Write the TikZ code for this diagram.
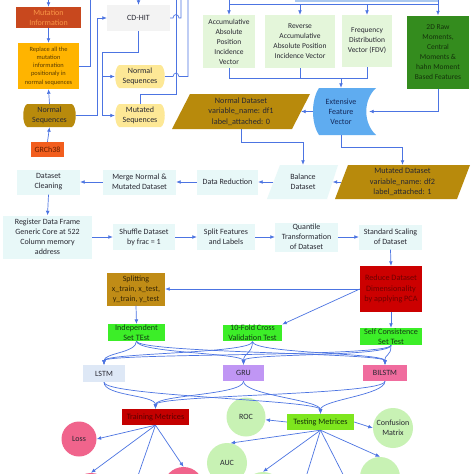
\documentclass[tikz,border=0pt]{standalone}
\usepackage{fontspec}
\setmainfont{Carlito}
\usetikzlibrary{arrows.meta}
\definecolor{lc}{RGB}{76,116,226}
\definecolor{tx}{RGB}{40,40,50}
\definecolor{cMut}{RGB}{200,72,30}
\definecolor{cMutT}{RGB}{250,150,70}
\definecolor{cRep}{RGB}{255,180,0}
\definecolor{cGold}{RGB}{184,138,12}
\definecolor{cGRC}{RGB}{242,94,30}
\definecolor{cGrey}{RGB}{243,243,243}
\definecolor{cSeq}{RGB}{253,232,150}
\definecolor{cFeat}{RGB}{228,246,218}
\definecolor{cDG}{RGB}{52,140,30}
\definecolor{cEFV}{RGB}{95,172,240}
\definecolor{cCy}{RGB}{232,248,248}
\definecolor{cRed}{RGB}{204,0,0}
\definecolor{cRedT}{RGB}{110,0,0}
\definecolor{cSplit}{RGB}{192,140,22}
\definecolor{cLime}{RGB}{60,238,40}
\definecolor{cLSTM}{RGB}{222,232,246}
\definecolor{cGRU}{RGB}{192,150,244}
\definecolor{cBIL}{RGB}{240,108,158}
\definecolor{cTrn}{RGB}{196,0,0}
\definecolor{cTst}{RGB}{126,230,30}
\definecolor{cPink}{RGB}{240,100,140}
\definecolor{cLG}{RGB}{200,242,180}
\definecolor{cBar}{RGB}{170,200,240}
\newcommand\seqshape[5]{\fill[#5] (#1+4,#2) -- (#3-4,#2) .. controls (#3+1,#2+3) and (#3+1,#4-3) .. (#3-4,#4) -- (#1+4,#4) .. controls (#1-1,#4-3) and (#1-1,#2+3) .. (#1+4,#2) -- cycle;}
\tikzset{
  bx/.style={rectangle, inner sep=0.5pt, align=center, text=tx, font=\fontsize{8}{10}\selectfont},
  sm/.style={font=\fontsize{6.4}{8.2}\selectfont},
  fb/.style={font=\fontsize{7.5}{10}\selectfont},
  dsf/.style={font=\fontsize{8.2}{10.5}\selectfont},
  tf/.style={font=\fontsize{8.2}{10}\selectfont},
  ln/.style={draw=lc, line width=0.7pt},
  ar/.style={ln, -{Latex[length=4.5pt,width=3.8pt]}},
  cb/.style={circle, inner sep=0pt, align=center, text=tx, font=\fontsize{8}{9.5}\selectfont}
}
\begin{document}
\begin{tikzpicture}[x=1pt,y=-1pt]
\useasboundingbox (0,0) rectangle (474,474);
\clip (0,0) rectangle (474,474);
\fill[white] (0,0) rectangle (474,474);
% custom shapes
\fill[cBar] (295,-5) rectangle (438,1.5);
\seqshape{23}{104}{76}{127}{cGold}
\seqshape{115}{65}{165}{88}{cSeq}
\seqshape{115}{104}{165}{127}{cSeq}
\fill[cEFV] (319,88) -- (376,88) .. controls (363,100) and (363,123) .. (376,135) -- (319,135) .. controls (311,123) and (311,100) .. (319,88) -- cycle;
\fill[cGold] (190,94) -- (310,94) -- (292,129) -- (172,129) -- cycle;
\fill[cGold] (348,165) -- (470,165) -- (457,199) -- (335,199) -- cycle;
\fill[cCy] (280,165) -- (338,165) -- (327,199) -- (267,199) -- cycle;
% nodes
\node[bx, fill=cMut, text=cMutT, minimum width=65pt, minimum height=21pt] (mut) at (48.5,17.5) {Mutation\\Information};
\node[bx, sm, fill=cRep, text={rgb,255:red,90;green,60;blue,0}, minimum width=61pt, minimum height=46pt] (rep) at (48.5,66) {Replace all the\\mutation\\information\\positionaly in\\normal sequences};
\node[bx, minimum width=53pt, minimum height=23pt] (ns1) at (49.5,115.5) {Normal\\Sequences};
\node[bx, fill=cGRC, text={rgb,255:red,100;green,30;blue,0}, minimum width=33pt, minimum height=15pt] (grc) at (47.5,149.5) {GRCh38};
\node[bx, fill=cGrey, minimum width=63pt, minimum height=26pt] (cdh) at (138.5,18) {CD-HIT};
\node[bx, minimum width=50pt, minimum height=23pt] (ns2) at (140,76.5) {Normal\\Sequences};
\node[bx, minimum width=50pt, minimum height=23pt] (ms2) at (140,115.5) {Mutated\\Sequences};
\node[bx, fb, fill=cFeat, minimum width=52pt, minimum height=53pt] (f1) at (229,41.5) {Accumulative\\Absolute\\Position\\Incidence\\Vector};
\node[bx, fb, fill=cFeat, minimum width=70pt, minimum height=53pt] (f2) at (300,41.5) {Reverse\\Accumulative\\Absolute Position\\Incidence Vector};
\node[bx, fb, fill=cFeat, minimum width=50pt, minimum height=52pt] (f3) at (367,41) {Frequency\\Distribution\\Vector (FDV)};
\node[bx, fb, fill=cDG, text={rgb,255:red,20;green,50;blue,10}, minimum width=62pt, minimum height=73pt] (f4) at (438,52) {2D Raw\\Moments,\\Central\\Moments \&\\hahn Moment\\Based Features};
\node[bx, text={rgb,255:red,20;green,40;blue,90}, minimum width=56pt, minimum height=47pt] (efv) at (341,111.5) {Extensive\\Feature\\Vector};
\node[bx, dsf, minimum width=120pt, minimum height=35pt] (nd) at (241,111.5) {Normal Dataset\\variable\_name: df1\\label\_attached: 0};
\node[bx, dsf, minimum width=122pt, minimum height=34pt] (md) at (402.5,182) {Mutated Dataset\\variable\_name: df2\\label\_attached: 1};
\node[bx, minimum width=59pt, minimum height=34pt] (bal) at (303,182) {Balance\\Dataset};
\node[bx, fill=cCy, minimum width=61pt, minimum height=25pt] (dr) at (227.5,182) {Data Reduction};
\node[bx, fill=cCy, minimum width=73pt, minimum height=25pt] (mg) at (139.5,182) {Merge Normal \&\\Mutated Dataset};
\node[bx, fill=cCy, minimum width=63pt, minimum height=25pt] (dc) at (48.5,182) {Dataset\\Cleaning};
\node[bx, fill=cCy, minimum width=89pt, minimum height=43pt] (reg) at (47.5,237) {Register Data Frame\\Generic Core at 522\\Column memory\\address};
\node[bx, fill=cCy, minimum width=62pt, minimum height=26pt] (shu) at (144,237) {Shuffle Dataset\\by frac = 1};
\node[bx, fill=cCy, minimum width=58pt, minimum height=26pt] (spl) at (226,237) {Split Features\\and Labels};
\node[bx, fill=cCy, minimum width=63pt, minimum height=29pt] (qua) at (306.5,237) {Quantile\\Transformation\\of Dataset};
\node[bx, fill=cCy, minimum width=63pt, minimum height=25pt] (std) at (390.5,237) {Standard Scaling\\of Dataset};
\node[bx, dsf, fill=cRed, text=cRedT, minimum width=62pt, minimum height=46pt] (red) at (391,289) {Reduce Dataset\\Dimensionality\\by applying PCA};
\node[bx, fill=cSplit, text={rgb,255:red,50;green,35;blue,5}, minimum width=58pt, minimum height=33pt] (spt) at (136,289) {Splitting\\x\_train, x\_test,\\y\_train, y\_test};
\node[bx, tf, fill=cLime, text={rgb,255:red,20;green,60;blue,20}, minimum width=57pt, minimum height=16pt] (ind) at (136.5,332.5) {Independent\\Set TEst};
\node[bx, tf, fill=cLime, text={rgb,255:red,20;green,60;blue,20}, minimum width=59pt, minimum height=16pt] (ten) at (252.5,333) {10-Fold Cross\\Validation Test};
\node[bx, tf, fill=cLime, text={rgb,255:red,20;green,60;blue,20}, minimum width=62pt, minimum height=17pt] (sct) at (391,336.5) {Self Consistence\\Set Test};
\node[bx, fill=cLSTM, minimum width=42pt, minimum height=17pt] (lstm) at (104,373.5) {LSTM};
\node[bx, fill=cGRU, minimum width=41pt, minimum height=16pt] (gru) at (243.5,373) {GRU};
\node[bx, fill=cBIL, minimum width=44pt, minimum height=16pt] (bil) at (385,373) {BILSTM};
\node[bx, dsf, fill=cTrn, text={rgb,255:red,90;green,0;blue,0}, minimum width=67pt, minimum height=16pt] (trn) at (155.5,417) {Training Metrices};
\node[bx, dsf, fill=cTst, text={rgb,255:red,20;green,50;blue,10}, minimum width=67pt, minimum height=16pt] (tst) at (320.5,422) {Testing Metrices};
\node[cb, fill=cPink, minimum size=35pt] (loss) at (79,439) {Loss};
\node[cb, fill=cLG, minimum size=39pt] (roc) at (246,417) {ROC};
\node[cb, fill=cLG, minimum size=40pt] (cm) at (393,428) {Confusion\\Matrix};
\node[cb, fill=cLG, minimum size=40pt] (auc) at (227,463) {AUC};
\node[cb, fill=cPink, minimum size=40pt] (pk1) at (91,493) {};
\node[cb, fill=cPink, minimum size=40pt] (pk2) at (183.5,487) {};
\node[cb, fill=cLG, minimum size=40pt] (gr1) at (380,477) {};
\node[cb, fill=cLG, minimum size=40pt] (gr2) at (263,492) {};
% free ends
\coordinate (t1) at (48.5,-3);
\coordinate (t2) at (138.5,-3);
\coordinate (t3) at (90,-3);
\coordinate (t4) at (176,-3);
\coordinate (t5) at (229,-3);
\coordinate (t6) at (438,-3);
\coordinate (h1) at (229,4);
\coordinate (h2) at (438,4);
\coordinate (h3) at (230,78);
\coordinate (j1) at (102,52);
\coordinate (o1) at (133,490);
\coordinate (o2) at (302,490);
\coordinate (o3) at (351,490);
% connectors, top
\draw[ar] (t1) -- (mut.north);
\draw[ar] (mut.south) -- (rep.north);
\draw[ar] (ns1.north) -- (rep.south);
\draw[ar] (grc.north) -- (ns1.south);
\draw[ln] (rep.east) -| (t3);
\draw[ar] (t2) -- (cdh.north);
\draw[ar] (ns1.east) -- ++(21,0) |- (cdh.west);
\draw[ln] (cdh.south) |- (j1);
\draw[ar] (j1) |- (ns2.west);
\draw[ar] (j1) |- (ms2.west);
\draw[ln] (ms2.north) -- ++(0,-9) -| (t4);
\draw[ln] (cdh.east) -- (173,18) .. controls (173.5,13.5) and (178.5,13.5) .. (179,18) -- (181,18) -- (181,-3);
\draw[ln] (ns2.east) -- (173,76.5) .. controls (173.5,72) and (178.5,72) .. (179,76.5) -- (188,76.5) -- (188,-3);
\draw[ln] (h1) -- (h2);
\draw[ar] (t5) -- (f1.north);
\draw[ar] (h1 -| f2.north) -- (f2.north);
\draw[ar] (h1 -| f3.north) -- (f3.north);
\draw[ar] (t6) -- (f4.north);
\draw[ln] (f1.south) -- (f1.south |- h3) -- (f3.south |- h3) -- (f3.south);
\draw[ln] (f2.south) -- (f2.south |- h3);
\draw[ar] (efv.north |- h3) -- (efv.north);
\draw[ar] (f4.south) |- (efv.east);
\draw[ar] (efv.west) -- (nd.east);
\draw[ar] (nd.south) -- ++(0,13) -| (bal.north);
\draw[ar] (efv.south) -- ++(0,12) -| (md.north);
\draw[ar] (md.west) -- (bal.east);
\draw[ar] (bal.west) -- (dr.east);
\draw[ar] (dr.west) -- (mg.east);
\draw[ar] (mg.west) -- (dc.east);
\draw[ar] (dc.south) -- (reg.north);
\draw[ar] (reg.east) -- (shu.west);
\draw[ar] (shu.east) -- (spl.west);
\draw[ar] (spl.east) -- (qua.west);
\draw[ar] (qua.east) -- (std.west);
\draw[ar] (std.south) -- (red.north);
\draw[ar] (red.west) -- (spt.east);
\draw[ar] (red.west) -- (ten.north east);
\draw[ar] (spt.south) -- (ind.north);
\draw[ar] (red.south) -- (sct.north);
% tests to models
\foreach \t in {ind,ten,sct}{
  \foreach \m in {lstm,gru,bil}{
    \draw[ar] (\t.south) .. controls +(0,12) and +(0,-12) .. (\m.north);
  }
}
% models to metrics
\foreach \m in {lstm,gru,bil}{
  \draw[ar] (\m.south) .. controls +(0,14) and +(0,-14) .. (trn.north);
  \draw[ar] (\m.south) .. controls +(0,14) and +(0,-14) .. (tst.north);
}
% metrics
\draw[ar] (trn.south) -- (loss.east);
\draw[ar] (trn.south) -- (pk1.north);
\draw[ar] (trn.south) -- (o1);
\draw[ar] (trn.south) -- (pk2.north);
\draw[ar] (tst.west) -- (roc.-8);
\draw[ar] (tst.east) -- (cm.west);
\draw[ar] (tst.south) -- (auc.80);
\draw[ar] (tst.south) -- (gr2.north);
\draw[ar] (tst.south) -- (o2);
\draw[ar] (tst.south) -- (o3);
\draw[ar] (tst.south) -- (gr1.north);
\end{tikzpicture}
\end{document}
